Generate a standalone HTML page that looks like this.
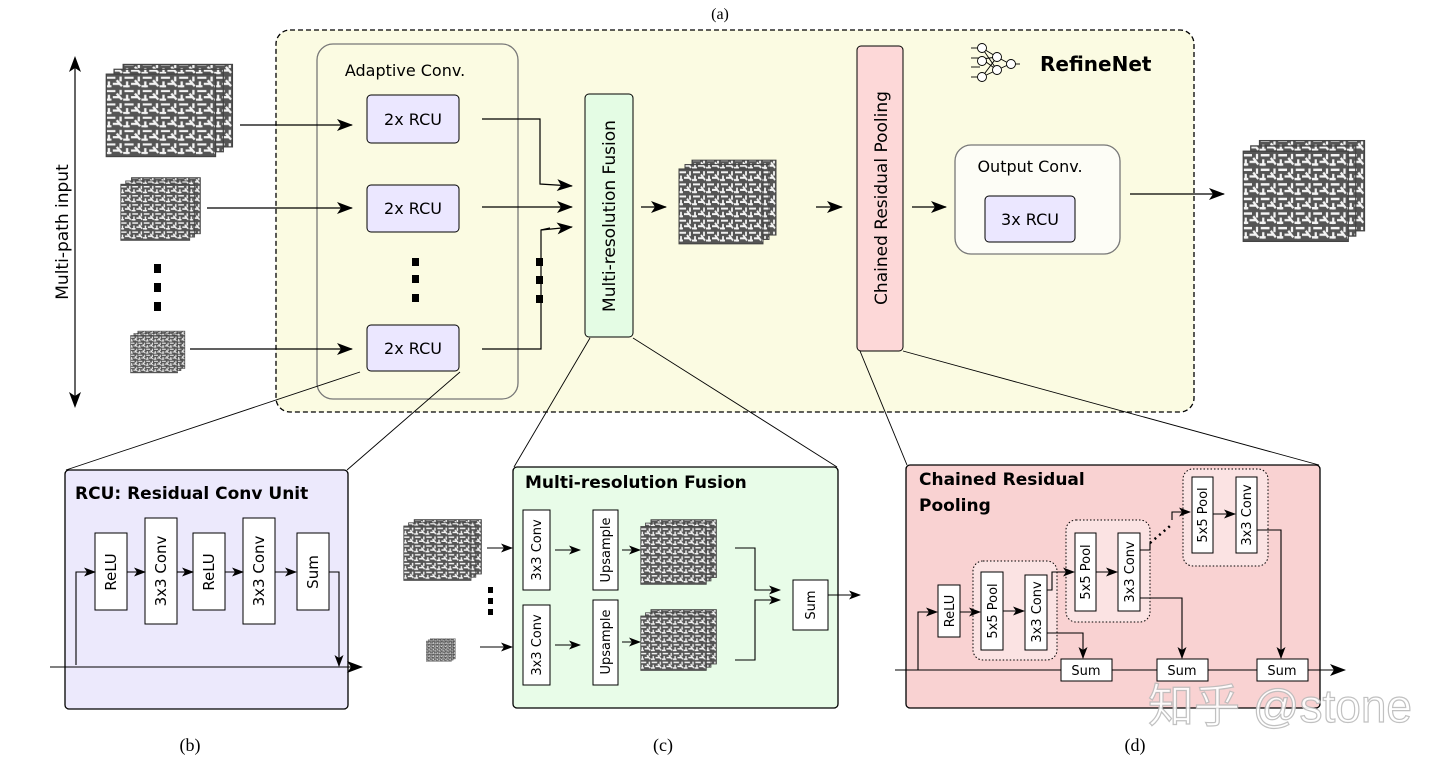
<!DOCTYPE html>
<html><head><meta charset="utf-8"><style>
html,body{margin:0;padding:0;background:#fff}
svg{display:block}
text{font-family:"DejaVu Sans","Liberation Sans",sans-serif;fill:#000}
.serif{font-family:"Liberation Serif",serif}
.b{font-weight:bold}
</style></head><body>
<svg width="1439" height="764" viewBox="0 0 1439 764" xmlns="http://www.w3.org/2000/svg">
<defs>
<marker id="ah" markerWidth="16" markerHeight="12" refX="15" refY="6" orient="auto" markerUnits="userSpaceOnUse"><path d="M0,0 L16,6 L0,12 L4,6 z" fill="#000"/></marker>
<marker id="ahs" markerWidth="12" markerHeight="9" refX="11" refY="4.5" orient="auto" markerUnits="userSpaceOnUse"><path d="M0,0 L12,4.5 L0,9 L3,4.5 z" fill="#000"/></marker>
<pattern id="img" width="14" height="11" patternUnits="userSpaceOnUse">
<rect width="14" height="11" fill="#555"/>
<path d="M1,2 L8,2 M3,5 L3,10 M9,4 L13,9 M6,7 L11,7 M12,1 L12,5 M0,9 L5,9" stroke="#f4f4f4" stroke-width="1.8"/>
</pattern>
<symbol id="stack" viewBox="0 0 100 80" preserveAspectRatio="none">
<rect x="14" y="2" width="84" height="68" fill="url(#img)" stroke="#444"/>
<rect x="7" y="6" width="84" height="68" fill="url(#img)" stroke="#444"/>
<rect x="1" y="10" width="84" height="68" fill="url(#img)" stroke="#444"/>
</symbol>
</defs>

<text x="720" y="19" class="serif" font-size="16" text-anchor="middle">(a)</text>

<rect x="276" y="30" width="918" height="382" rx="14" fill="#fbfbe2" stroke="#000" stroke-width="1.3" stroke-dasharray="5,3"/>
<rect x="317" y="44" width="201" height="355" rx="16" fill="none" stroke="#777" stroke-width="1.3"/>
<text x="405" y="76" font-size="16" text-anchor="middle">Adaptive Conv.</text>

<g fill="#ebe7ff" stroke="#000" stroke-width="1">
<rect x="367" y="95" width="92" height="48" rx="4"/>
<rect x="367" y="185" width="92" height="47" rx="4"/>
<rect x="367" y="325" width="92" height="46" rx="4"/>
</g>
<g font-size="16" text-anchor="middle">
<text x="413" y="125">2x RCU</text><text x="413" y="214">2x RCU</text><text x="413" y="354">2x RCU</text>
</g>
<g fill="#000"><rect x="412" y="258" width="7" height="8"/><rect x="412" y="275" width="7" height="8"/><rect x="412" y="294" width="7" height="8"/>
<rect x="536" y="258" width="7" height="8"/><rect x="536" y="276" width="7" height="8"/><rect x="536" y="295" width="7" height="8"/>
<rect x="154" y="264" width="7" height="9"/><rect x="154" y="283" width="7" height="9"/><rect x="154" y="302" width="7" height="9"/>
<rect x="488" y="587" width="5" height="6"/><rect x="488" y="598" width="5" height="6"/><rect x="488" y="609" width="5" height="6"/></g>

<use href="#stack" x="105" y="62" width="130" height="97"/>
<use href="#stack" x="120" y="176" width="82" height="66"/>
<use href="#stack" x="130" y="330" width="56" height="44"/>
<use href="#stack" x="678" y="158" width="100" height="88"/>
<use href="#stack" x="1242" y="138" width="125" height="106"/>

<g stroke="#000" stroke-width="1.2" fill="none">
<line x1="240" y1="125" x2="352" y2="125" marker-end="url(#ah)"/>
<line x1="207" y1="208" x2="352" y2="208" marker-end="url(#ah)"/>
<line x1="190" y1="349" x2="352" y2="349" marker-end="url(#ah)"/>
<polyline points="482,119 540,119 540,184 572,186" marker-end="url(#ah)"/>
<line x1="482" y1="207" x2="572" y2="207" marker-end="url(#ah)"/>
<polyline points="482,349 541,349 541,230 550,228" />
<line x1="541" y1="230" x2="572" y2="227" marker-end="url(#ah)"/>
<line x1="641" y1="207" x2="666" y2="207" marker-end="url(#ah)"/>
<line x1="816" y1="207" x2="842" y2="207" marker-end="url(#ah)"/>
<line x1="912" y1="207" x2="946" y2="207" marker-end="url(#ah)"/>
<line x1="1130" y1="194" x2="1224" y2="194" marker-end="url(#ah)"/>
<line x1="75" y1="60" x2="75" y2="404"/>
</g>
<path d="M75,56 L69,72 L75,68 L81,72 z M75,408 L69,392 L75,396 L81,392 z" fill="#000"/>
<text transform="translate(68,232) rotate(-90)" font-size="17" text-anchor="middle">Multi-path input</text>

<rect x="585" y="94" width="48" height="243" rx="4" fill="#e4fce4" stroke="#000"/>
<text transform="translate(615,216) rotate(-90)" font-size="17" text-anchor="middle">Multi-resolution Fusion</text>
<rect x="857" y="46" width="46" height="305" rx="4" fill="#fdd8d8" stroke="#000"/>
<text transform="translate(887,198) rotate(-90)" font-size="17" text-anchor="middle">Chained Residual Pooling</text>

<rect x="955" y="145" width="165" height="109" rx="16" fill="#fdfdf6" stroke="#777" stroke-width="1.3"/>
<text x="1030" y="172" font-size="16" text-anchor="middle">Output Conv.</text>
<rect x="985" y="196" width="90" height="46" rx="4" fill="#ebe7ff" stroke="#000"/>
<text x="1030" y="225" font-size="16" text-anchor="middle">3x RCU</text>

<g stroke="#000" stroke-width="0.9" fill="#fff">
<line x1="971" y1="48" x2="980" y2="48"/><line x1="971" y1="58" x2="980" y2="58"/><line x1="971" y1="67" x2="980" y2="67"/><line x1="971" y1="77" x2="980" y2="77"/>
<line x1="982" y1="48" x2="997" y2="57"/><line x1="982" y1="59" x2="997" y2="57"/><line x1="982" y1="59" x2="997" y2="70"/><line x1="982" y1="77" x2="997" y2="57"/><line x1="982" y1="77" x2="997" y2="70"/><line x1="982" y1="48" x2="997" y2="70"/>
<line x1="997" y1="57" x2="1010" y2="64"/><line x1="997" y1="70" x2="1010" y2="64"/><line x1="1010" y1="64" x2="1020" y2="64"/>
<circle cx="982" cy="48" r="4.5"/><circle cx="982" cy="61" r="4.5"/><circle cx="982" cy="77" r="4.5"/>
<circle cx="997" cy="57" r="4.5"/><circle cx="997" cy="70" r="4.5"/><circle cx="1011" cy="64" r="4.5"/>
</g>
<text x="1040" y="71" font-size="20" class="b">RefineNet</text>

<g stroke="#000" stroke-width="0.9">
<line x1="360" y1="372" x2="66" y2="470"/><line x1="460" y1="372" x2="347" y2="470"/>
<line x1="590" y1="338" x2="514" y2="467"/><line x1="633" y1="338" x2="837" y2="467"/>
<line x1="860" y1="351" x2="907" y2="465"/><line x1="903" y1="351" x2="1319" y2="465"/>
</g>

<rect x="65" y="470" width="283" height="239" rx="4" fill="#ece9fc" stroke="#000" stroke-width="1.3"/>
<text x="75" y="499" font-size="17" class="b">RCU: Residual Conv Unit</text>
<g fill="#fff" stroke="#000">
<rect x="95" y="533" width="32" height="77"/><rect x="145" y="518" width="32" height="106"/><rect x="193" y="533" width="32" height="77"/><rect x="243" y="518" width="32" height="106"/><rect x="297" y="533" width="32" height="77"/>
</g>
<g font-size="15" text-anchor="middle">
<text transform="translate(116,572) rotate(-90)">ReLU</text>
<text transform="translate(166,571) rotate(-90)">3x3 Conv</text>
<text transform="translate(214,572) rotate(-90)">ReLU</text>
<text transform="translate(264,571) rotate(-90)">3x3 Conv</text>
<text transform="translate(318,572) rotate(-90)">Sum</text>
</g>
<g stroke="#000" stroke-width="1.1" fill="none">
<line x1="50" y1="667" x2="362" y2="667" marker-end="url(#ah)"/>
<polyline points="76,665 76,572 95,572" marker-end="url(#ahs)"/>
<line x1="127" y1="572" x2="145" y2="572" marker-end="url(#ahs)"/>
<line x1="177" y1="572" x2="193" y2="572" marker-end="url(#ahs)"/>
<line x1="225" y1="572" x2="243" y2="572" marker-end="url(#ahs)"/>
<line x1="275" y1="572" x2="296" y2="572" marker-end="url(#ahs)"/>
<polyline points="329,572 339,572 339,666" marker-end="url(#ahs)"/>
</g>
<text x="190" y="751" class="serif" font-size="18" text-anchor="middle">(b)</text>

<use href="#stack" x="403" y="518" width="80" height="64"/>
<use href="#stack" x="426" y="638" width="30" height="24"/>
<rect x="513" y="467" width="325" height="241" rx="4" fill="#e8fce8" stroke="#000" stroke-width="1.3"/>
<text x="525" y="488" font-size="17" class="b">Multi-resolution Fusion</text>
<g fill="#fff" stroke="#000">
<rect x="523" y="510" width="27" height="80"/><rect x="593" y="510" width="25" height="80"/>
<rect x="523" y="605" width="27" height="80"/><rect x="593" y="600" width="25" height="85"/>
<rect x="793" y="580" width="35" height="50"/>
</g>
<g font-size="13" text-anchor="middle">
<text transform="translate(541,550) rotate(-90)">3x3 Conv</text>
<text transform="translate(610,550) rotate(-90)">Upsample</text>
<text transform="translate(541,645) rotate(-90)">3x3 Conv</text>
<text transform="translate(610,642) rotate(-90)">Upsample</text>
<text transform="translate(815,605) rotate(-90)">Sum</text>
</g>
<use href="#stack" x="640" y="518" width="78" height="68"/>
<use href="#stack" x="640" y="608" width="78" height="64"/>
<g stroke="#000" stroke-width="1.1" fill="none">
<line x1="487" y1="548" x2="512" y2="548" marker-end="url(#ahs)"/>
<line x1="480" y1="647" x2="512" y2="647" marker-end="url(#ahs)"/>
<line x1="555" y1="550" x2="580" y2="550" marker-end="url(#ahs)"/>
<line x1="555" y1="645" x2="580" y2="645" marker-end="url(#ahs)"/>
<line x1="622" y1="550" x2="640" y2="550" marker-end="url(#ahs)"/>
<line x1="622" y1="642" x2="640" y2="642" marker-end="url(#ahs)"/>
<polyline points="735,548 755,548 755,590 780,590" marker-end="url(#ahs)"/>
<polyline points="735,660 755,660 755,600 780,600" marker-end="url(#ahs)"/>
<line x1="828" y1="595" x2="860" y2="595" marker-end="url(#ahs)"/>
</g>
<text x="663" y="751" class="serif" font-size="18" text-anchor="middle">(c)</text>

<rect x="906" y="465" width="414" height="243" rx="4" fill="#f9d2d2" stroke="#000" stroke-width="1.3"/>
<text x="919" y="485" font-size="17" class="b">Chained Residual</text>
<text x="919" y="511" font-size="17" class="b">Pooling</text>
<g fill="#fbe3e3" stroke="#000" stroke-dasharray="1.5,2">
<rect x="973" y="561" width="84" height="99" rx="10"/>
<rect x="1066" y="520" width="84" height="102" rx="10"/>
<rect x="1183" y="469" width="85" height="97" rx="10"/>
</g>
<g fill="#fff" stroke="#000">
<rect x="938" y="585" width="22" height="52"/>
<rect x="981" y="572" width="22" height="78"/><rect x="1025" y="575" width="22" height="75"/>
<rect x="1075" y="533" width="21" height="78"/><rect x="1118" y="533" width="22" height="78"/>
<rect x="1192" y="477" width="21" height="76"/><rect x="1236" y="477" width="21" height="76"/>
<rect x="1061" y="659" width="51" height="22"/><rect x="1157" y="659" width="51" height="22"/><rect x="1257" y="659" width="51" height="22"/>
</g>
<g stroke="#000" stroke-width="1.1" fill="none">
<line x1="895" y1="670" x2="1061" y2="670"/><line x1="1112" y1="670" x2="1157" y2="670"/><line x1="1208" y1="670" x2="1257" y2="670"/>
<line x1="1308" y1="670" x2="1345" y2="670" marker-end="url(#ah)"/>
<polyline points="918,670 918,612 937,612" marker-end="url(#ahs)"/>
<line x1="960" y1="612" x2="980" y2="612" marker-end="url(#ahs)"/>
<line x1="1003" y1="611" x2="1024" y2="611" marker-end="url(#ahs)"/>
<polyline points="1047,590 1052,590 1052,572 1074,572" marker-end="url(#ahs)"/>
<line x1="1096" y1="572" x2="1117" y2="572" marker-end="url(#ahs)"/>
<line x1="1213" y1="514" x2="1235" y2="514" marker-end="url(#ahs)"/>
<polyline points="1047,633 1083,633 1083,658" marker-end="url(#ahs)"/>
<polyline points="1140,598 1182,598 1182,658" marker-end="url(#ahs)"/>
<polyline points="1257,530 1281,530 1281,658" marker-end="url(#ahs)"/>
<polyline points="1140,550 1150,550 1150,543"/>
<line x1="1150" y1="543" x2="1170" y2="526" stroke-dasharray="2,4" stroke-width="2.5"/>
<polyline points="1172,520 1172,512 1190,512" marker-end="url(#ahs)"/>
</g>
<g font-size="13" text-anchor="middle">
<text transform="translate(954,611) rotate(-90)">ReLU</text>
<text transform="translate(997,611) rotate(-90)">5x5 Pool</text>
<text transform="translate(1041,612) rotate(-90)">3x3 Conv</text>
<text transform="translate(1090,572) rotate(-90)">5x5 Pool</text>
<text transform="translate(1134,572) rotate(-90)">3x3 Conv</text>
<text transform="translate(1207,515) rotate(-90)">5x5 Pool</text>
<text transform="translate(1251,515) rotate(-90)">3x3 Conv</text>
<text x="1086" y="675">Sum</text><text x="1182" y="675">Sum</text><text x="1282" y="675">Sum</text>
</g>
<text x="1135" y="751" class="serif" font-size="18" text-anchor="middle">(d)</text>
<text x="1148" y="722" font-size="46" style="font-family:'Liberation Sans','Noto Sans CJK SC',sans-serif;fill:#fff;stroke:#bbb;stroke-width:1.2" opacity="0.9">知乎 @stone</text>
</svg>
</body></html>
